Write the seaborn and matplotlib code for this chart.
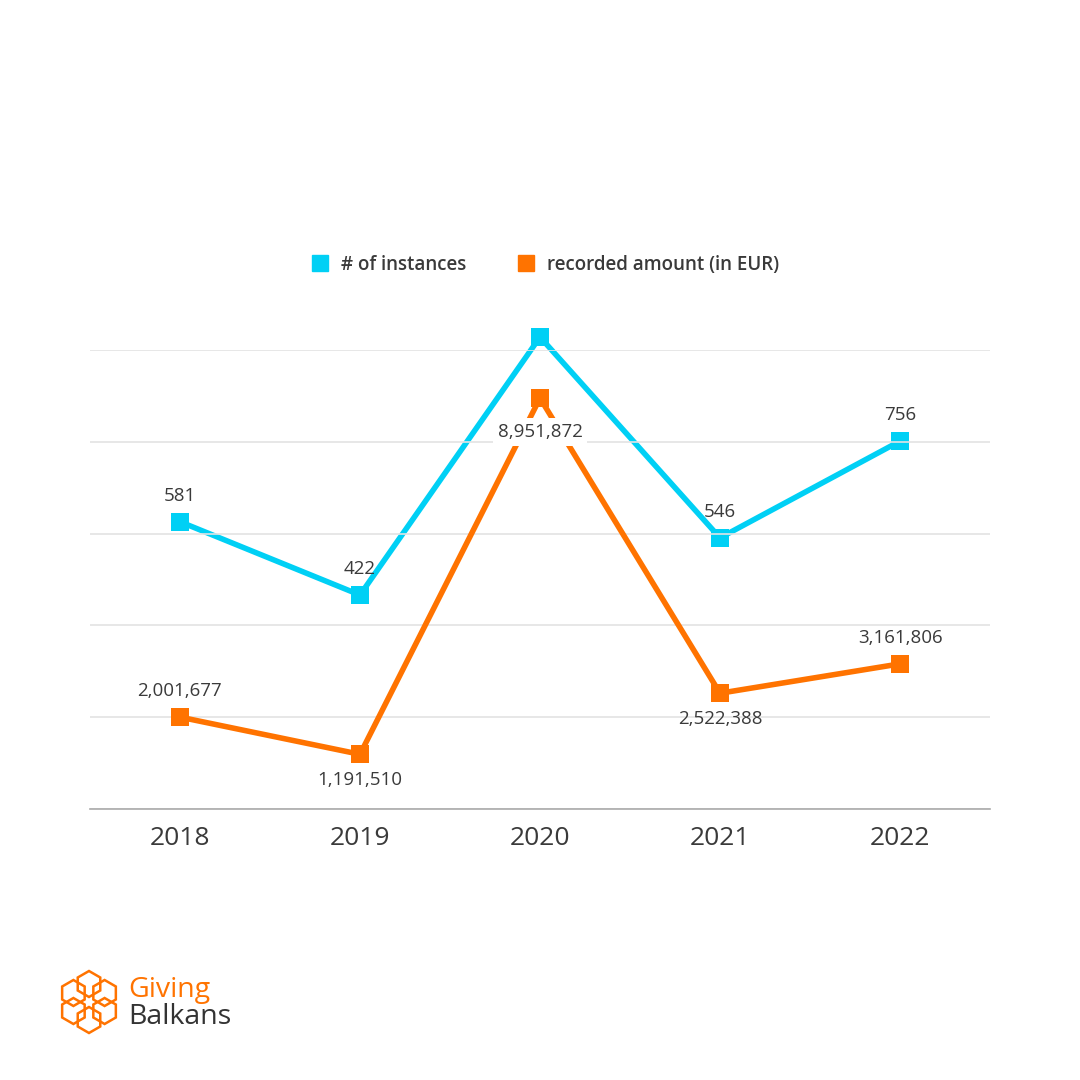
import numpy as np
import pandas as pd
import seaborn as sns
import matplotlib.pyplot as plt
from matplotlib.patches import RegularPolygon
from matplotlib.lines import Line2D

years = ['2018', '2019', '2020', '2021', '2022']
instances = [581, 422, 982, 546, 756]
amounts = [2001677, 1191510, 8951872, 2522388, 3161806]
amount_label_pos = ['above', 'below', 'below', 'below', 'above']

blue = '#00d0f5'
orange = '#ff7300'
text_col = '#3a3a3a'

sns.set_theme(style='white')
plt.rcParams['font.family'] = ['Open Sans', 'DejaVu Sans']

df = pd.DataFrame({'year': np.arange(len(years)), 'instances': instances, 'amount': amounts})

fig = plt.figure(figsize=(10.8, 10.8), dpi=100)
ax = fig.add_axes([90/1080, 1 - 809/1080, 900/1080, 459/1080])
ax2 = ax.twinx()

# amount axis drives the gridlines
ax.set_ylim(0, 10_000_000)
ax.set_yticks(np.arange(0, 10_000_001, 2_000_000))
ax.yaxis.grid(True, color='#e3e3e3', lw=1.2)
ax.set_xlim(-0.5, 4.5)
ax2.set_ylim(-42.5, 953.8)

sns.lineplot(ax=ax, data=df, x='year', y='amount', color=orange, lw=4, marker='s',
             markersize=13, markeredgewidth=0, clip_on=False, zorder=3)
sns.lineplot(ax=ax2, data=df, x='year', y='instances', color=blue, lw=4, marker='s',
             markersize=13, markeredgewidth=0, clip_on=False, zorder=3)

for i, v in enumerate(instances):
    ax2.annotate(f'{v:,}', (i, v), xytext=(0, 12), textcoords='offset points',
                 ha='center', va='bottom', fontsize=13.5, color=text_col)

for i, v in enumerate(amounts):
    if amount_label_pos[i] == 'above':
        ax.annotate(f'{v:,}', (i, v), xytext=(0, 12), textcoords='offset points',
                    ha='center', va='bottom', fontsize=13.5, color=text_col, zorder=5)
    else:
        box = dict(boxstyle='square,pad=0.25', fc='white', ec='none') if i == 2 else None
        ax.annotate(f'{v:,}', (i, v), xytext=(0, -12 if i != 2 else -18), textcoords='offset points',
                    ha='center', va='top', fontsize=13.5, color=text_col, bbox=box,
                    annotation_clip=False)

ax.set_xticks(range(len(years)))
ax.set_xticklabels(years, fontsize=19, color=text_col)
ax.tick_params(axis='x', length=0, pad=12)
ax.set_yticklabels([])
ax.tick_params(axis='y', length=0)
ax2.set_yticks([])
ax.set_xlabel('')
ax.set_ylabel('')
ax2.set_ylabel('')
for a in (ax, ax2):
    for s in ['top', 'left', 'right', 'bottom']:
        a.spines[s].set_visible(False)
ax.spines['bottom'].set_visible(True)
ax.spines['bottom'].set_color('#aaaaaa')
ax.spines['bottom'].set_linewidth(1.2)

# orange + label box drawn above the blue line
ax.set_zorder(ax2.get_zorder() + 1)
ax.patch.set_visible(False)

handles = [Line2D([], [], marker='s', ls='none', color=blue, markersize=12),
           Line2D([], [], marker='s', ls='none', color=orange, markersize=12)]
leg = fig.legend(handles, ['# of instances', 'recorded amount (in EUR)'], ncol=2,
                 loc='center', bbox_to_anchor=(540/1080, 1 - 265/1080), frameon=False,
                 handletextpad=0.1, columnspacing=2.2,
                 prop={'family': ['Open Sans', 'DejaVu Sans'], 'weight': 'semibold', 'size': 13.5})
for t in leg.get_texts():
    t.set_color(text_col)

# logo
lax = fig.add_axes([0, 0, 1, 1], zorder=-1)
lax.set_xlim(0, 1080)
lax.set_ylim(1080, 0)
lax.axis('off')
r = 13
cx0, cy0 = 89, 1002
for k in range(6):
    ang = np.pi / 6 + k * np.pi / 3
    lax.add_patch(RegularPolygon((cx0 + 18 * np.cos(ang), cy0 + 18 * np.sin(ang)), 6,
                                 radius=r, orientation=0, fill=False, ec=orange, lw=1.8))
lax.text(128, 990, 'Giving', fontsize=20.5, color=orange, va='center', ha='left')
lax.text(128, 1017, 'Balkans', fontsize=20.5, color='#333333', va='center', ha='left')

fig.savefig('out.png', dpi=100, facecolor='white')
